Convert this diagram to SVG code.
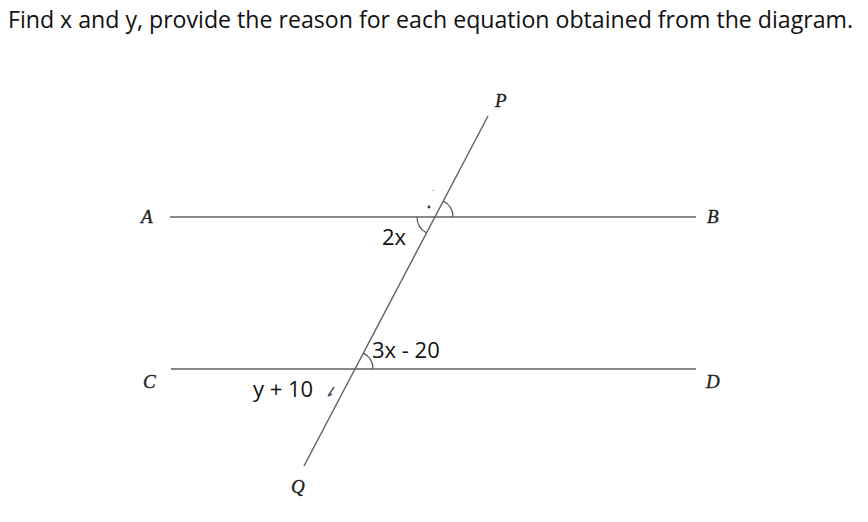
<svg xmlns="http://www.w3.org/2000/svg" width="868" height="522" viewBox="0 0 868 522">
<style>
.ln{stroke:#606060;stroke-width:1.4;fill:none}
.arc{stroke:#555;stroke-width:1.2;fill:none}
.pt{font-family:"Liberation Serif",serif;font-style:italic;font-size:19px;fill:#222;stroke:#222;stroke-width:0.35}
.lab{font-family:"Open Sans","Liberation Sans",sans-serif;font-size:22px;fill:#111}
.title{font-family:"Open Sans","Liberation Sans",sans-serif;font-size:23px;fill:#111}
</style>
<rect width="868" height="522" fill="#fff"/>
<text class="title" x="8" y="28" textLength="845" lengthAdjust="spacingAndGlyphs">Find x and y, provide the reason for each equation obtained from the diagram.</text>
<g id="connectors">
<line id="AB" class="ln" x1="170" y1="217" x2="696" y2="217"/>
<line id="CD" class="ln" x1="171" y1="369" x2="696" y2="369"/>
<line id="PQ" class="ln" x1="488" y1="116" x2="304" y2="466"/>
</g>
<g id="angle-upper">
<path class="arc" d="M453 217 A18 18 0 0 0 443.4 201.1"/>
<path class="arc" d="M417 217 A18 18 0 0 0 426.6 232.9"/>
<circle cx="429" cy="207" r="1.4" fill="#333"/>
<line x1="432" y1="190.5" x2="434" y2="190.5" stroke="#bbb" stroke-width="1"/>
</g>
<g id="angle-lower">
<path class="arc" d="M373 369 A18 18 0 0 0 363.4 353.1"/>
<path d="M334 387 L328 396 M328 396 L332 394" stroke="#4a5a70" stroke-width="1.4" fill="none"/>
</g>
<g id="label-2x"><text class="lab" x="382" y="245">2x</text></g>
<g id="label-3x"><text class="lab" x="372" y="358">3x - 20</text></g>
<g id="label-y"><text class="lab" x="253" y="397">y + 10</text></g>
<g id="A"><text class="pt" x="141" y="223">A</text></g>
<g id="B"><text class="pt" x="707" y="223">B</text></g>
<g id="C"><text class="pt" x="143" y="388">C</text></g>
<g id="D"><text class="pt" x="706" y="388">D</text></g>
<g id="P"><text class="pt" x="495" y="107">P</text></g>
<g id="Q"><text class="pt" x="291" y="493">Q</text></g>
</svg>
